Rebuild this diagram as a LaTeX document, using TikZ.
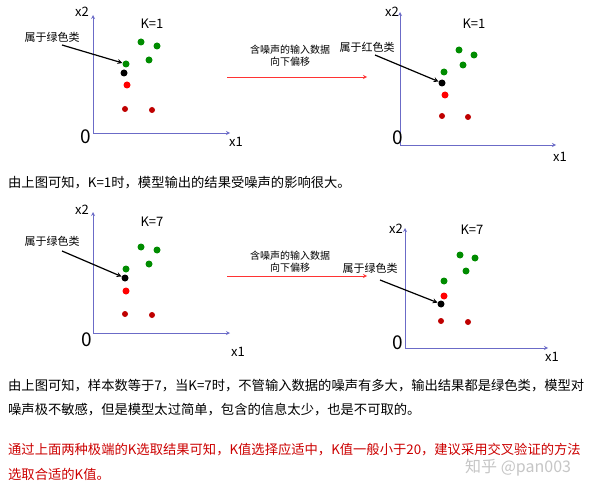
\documentclass[tikz,border=0pt]{standalone}
\usepackage{fontspec}
\setmainfont{Noto Sans CJK SC}
\begin{document}
\begin{tikzpicture}[x=1pt,y=-1pt,
 ax/.style={draw=blue!45!gray!80,line width=0.8pt,->,>=stealth},
 gdot/.style={circle,fill=green!55!black,inner sep=0pt,minimum size=7pt},
 rdot/.style={circle,fill=red,inner sep=0pt,minimum size=7pt},
 rdot2/.style={circle,fill=red!75!black,inner sep=0pt,minimum size=6pt},
 bdot/.style={circle,fill=black,inner sep=0pt,minimum size=7pt},
 lbl/.style={font=\fontsize{11}{13}\selectfont,inner sep=1pt},
 mlbl/.style={font=\fontsize{10}{12}\selectfont,inner sep=1pt,align=center},
 klbl/.style={font=\fontsize{13}{14}\selectfont,inner sep=1pt},
 axl/.style={font=\fontsize{13}{14}\selectfont,inner sep=0pt},
 zero/.style={font=\fontsize{19}{20}\selectfont,inner sep=0pt},
 txt/.style={font=\fontsize{13.3}{15}\selectfont,anchor=west,inner sep=0pt},
 pt/.style={->,>=stealth,line width=1.2pt},
 redar/.style={->,>=stealth,draw=red!80,line width=0.8pt}]
\useasboundingbox[fill=white] (0,0) rectangle (600,492);
% panel 1
\coordinate (o1) at (93,133);
\draw[ax] (o1) -- (93,15) coordinate (y1);
\draw[ax] (o1) -- (230,133) coordinate (x1e);
\node[axl] (x2a) at (82,12) {x2};
\node[axl] (x1a) at (236,142) {x1};
\node[zero] (z1) at (86,137) {0};
\node[klbl] (k1) at (152,24) {K=1};
\node[gdot] (a1) at (141,42) {}; \node[gdot] (a2) at (157,46) {};
\node[gdot] (a3) at (149,60) {}; \node[gdot] (a4) at (126,64) {};
\node[bdot] (a5) at (124,73) {}; \node[rdot] (a6) at (127,85) {};
\node[rdot2] (a7) at (125,109) {}; \node[rdot2] (a8) at (152,110) {};
\node[lbl] (l1) at (52,37) {属于绿色类};
\coordinate (s1) at (62,45);
\draw[pt] (s1) -- (a4);
% middle arrow 1
\coordinate (m1a) at (227,77); \coordinate (m1b) at (367,77);
\draw[redar] (m1a) -- (m1b);
\node[mlbl] (t1) at (290,56) {含噪声的输入数据\\向下偏移};
% panel 2
\coordinate (o2) at (400,145);
\draw[ax] (o2) -- (400,12);
\draw[ax] (o2) -- (556,145);
\node[axl] (x2b) at (392,12) {x2};
\node[axl] (x1b) at (560,157) {x1};
\node[zero] (z2) at (398,138) {0};
\node[klbl] (k2) at (474,24) {K=1};
\node[gdot] (b1) at (459,50) {}; \node[gdot] (b2) at (474,55) {};
\node[gdot] (b3) at (463,65) {}; \node[gdot] (b4) at (444,72) {};
\node[bdot] (b5) at (442,83) {}; \node[rdot] (b6) at (445,95) {};
\node[rdot2] (b7) at (442,116) {}; \node[rdot2] (b8) at (468,117) {};
\node[lbl] (l2) at (367,47) {属于红色类};
\coordinate (s2) at (375,55);
\draw[pt] (s2) -- (b5);
\node[txt] (p1) at (8,183) {由上图可知，K=1时，模型输出的结果受噪声的影响很大。};
% panel 3
\coordinate (o3) at (93,333);
\draw[ax] (o3) -- (93,212);
\draw[ax] (o3) -- (230,333);
\node[axl] (x2c) at (82,210) {x2};
\node[axl] (x1c) at (238,352) {x1};
\node[zero] (z3) at (87,340) {0};
\node[klbl] (k3) at (152,222) {K=7};
\node[gdot] (c1) at (141,247) {}; \node[gdot] (c2) at (157,250) {};
\node[gdot] (c3) at (149,264) {}; \node[gdot] (c4) at (126,269) {};
\node[bdot] (c5) at (125,278) {}; \node[rdot] (c6) at (126,291) {};
\node[rdot2] (c7) at (125,314) {}; \node[rdot2] (c8) at (152,315) {};
\node[lbl] (l3) at (52,241) {属于绿色类};
\coordinate (s3) at (62,251);
\draw[pt] (s3) -- (c5);
\coordinate (m2a) at (227,276); \coordinate (m2b) at (367,276);
\draw[redar] (m2a) -- (m2b);
\node[mlbl] (t2) at (290,262) {含噪声的输入数据\\向下偏移};
% panel 4
\coordinate (o4) at (405,348);
\draw[ax] (o4) -- (405,228);
\draw[ax] (o4) -- (548,348);
\node[axl] (x2d) at (396,229) {x2};
\node[axl] (x1d) at (552,357) {x1};
\node[zero] (z4) at (398,343) {0};
\node[klbl] (k4) at (472,230) {K=7};
\node[gdot] (d1) at (460,255) {}; \node[gdot] (d2) at (475,258) {};
\node[gdot] (d3) at (466,271) {}; \node[gdot] (d4) at (444,281) {};
\node[rdot] (d6) at (444,296) {}; \node[bdot] (d5) at (441,304) {};
\node[rdot2] (d7) at (441,321) {}; \node[rdot2] (d8) at (468,322) {};
\node[lbl] (l4) at (370,268) {属于绿色类};
\coordinate (s4) at (380,280);
\draw[pt] (s4) -- (d5);
\node[txt] (p2) at (8,386) {由上图可知，样本数等于7，当K=7时，不管输入数据的噪声有多大，输出结果都是绿色类，模型对};
\node[txt] (p3) at (8,410) {噪声极不敏感，但是模型太过简单，包含的信息太少，也是不可取的。};
\node[txt,text=red!80!black] (p4) at (8,450) {通过上面两种极端的K选取结果可知，K值选择应适中，K值一般小于20，建议采用交叉验证的方法};
\node[txt,text=red!80!black] (p5) at (8,474) {选取合适的K值。};
\node[txt,text=gray!45,font=\fontsize{16}{17}\selectfont] (wm) at (465,468) {知乎 @pan003};
\end{tikzpicture}
\end{document}
